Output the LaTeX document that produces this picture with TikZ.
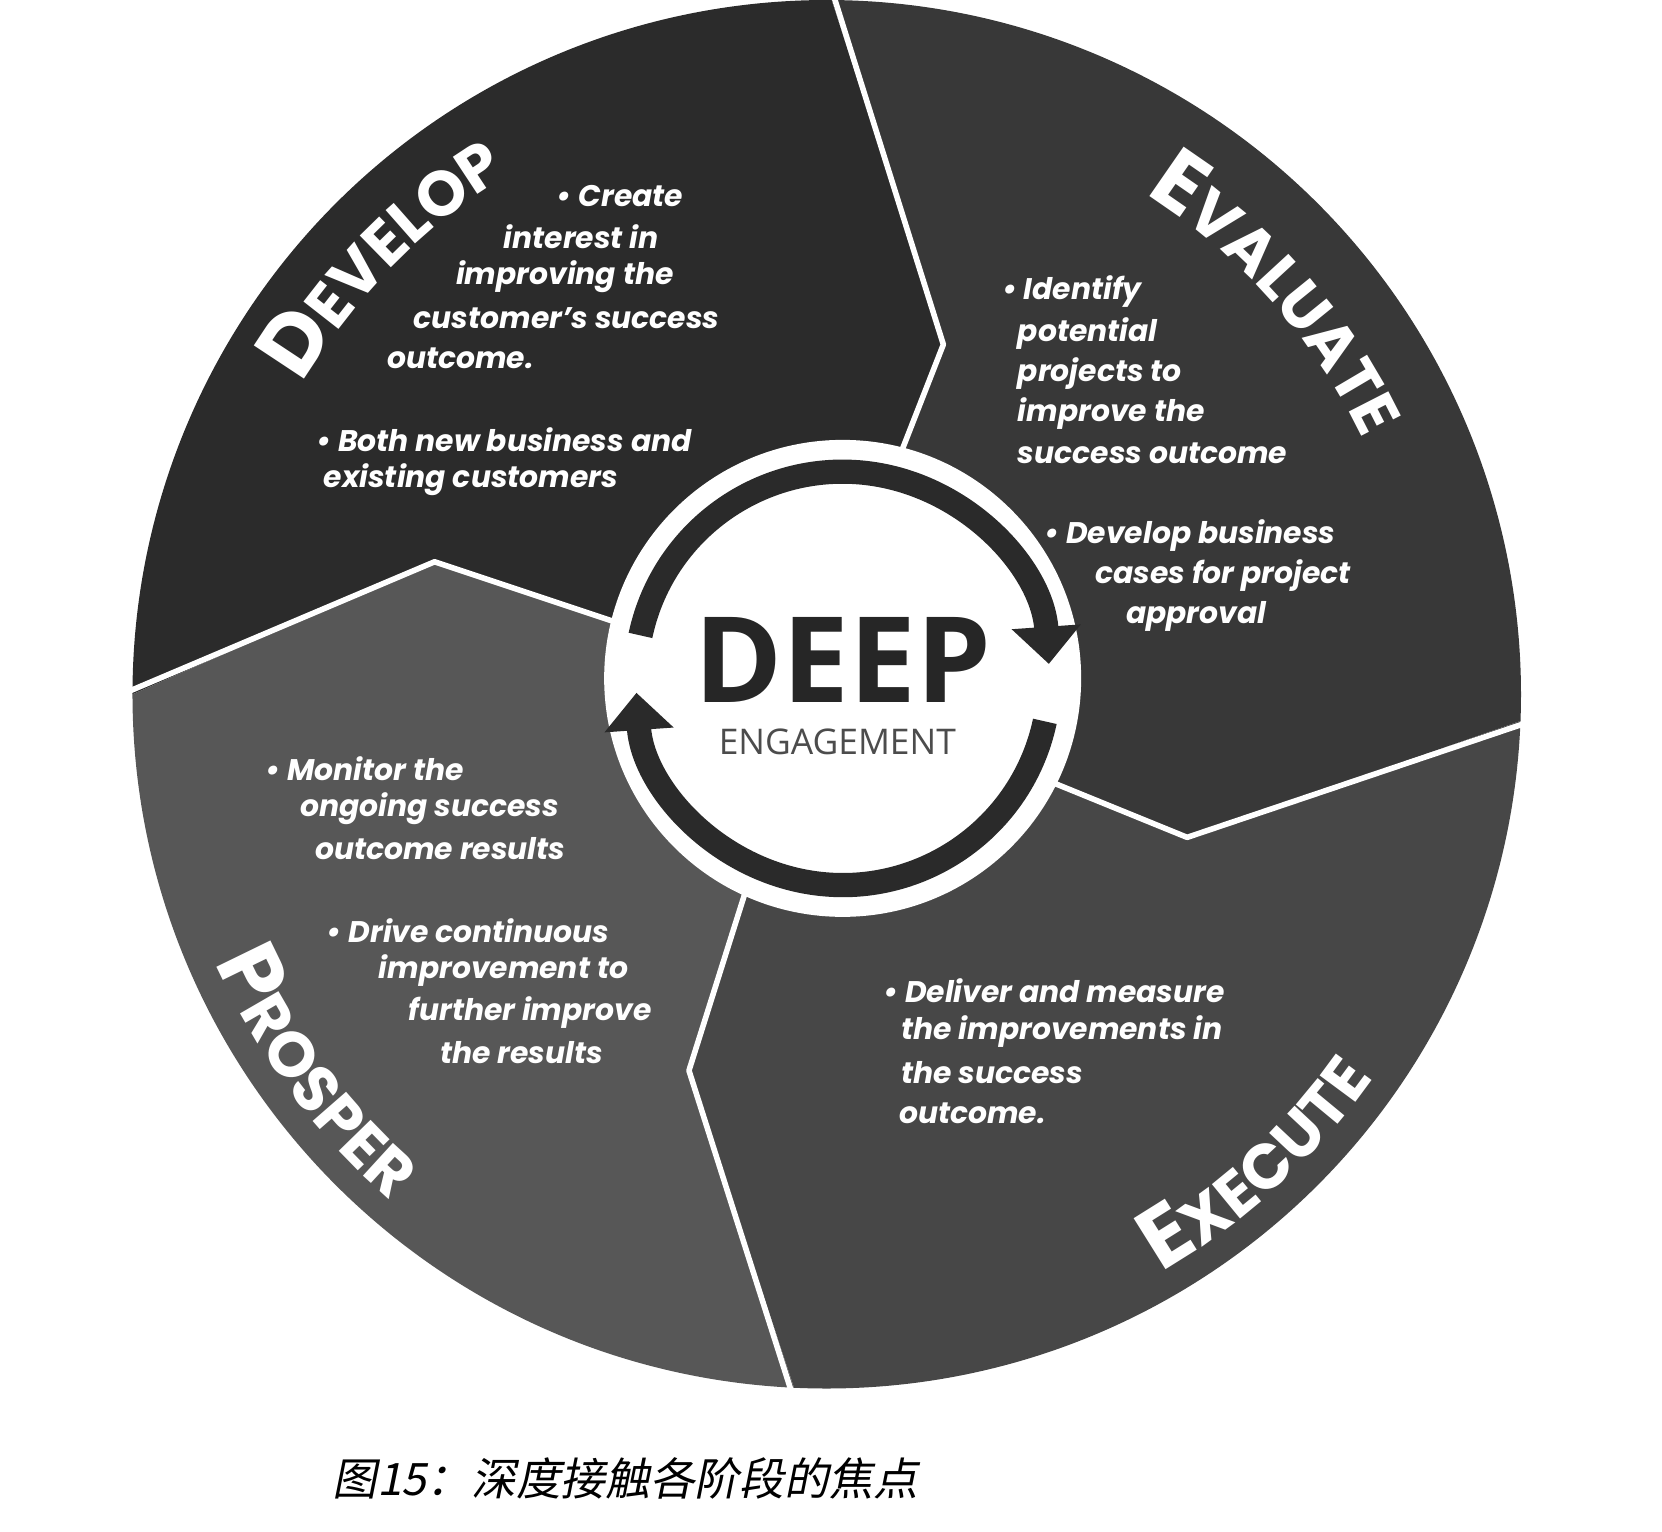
\documentclass[tikz,border=0pt]{standalone}
\usepackage{fontspec}
\setmainfont{Poppins}
\newfontfamily\cjk[FakeSlant=0.2]{Noto Sans CJK SC}
\newfontfamily\deepfont{Open Sans}
\usetikzlibrary{arrows.meta,decorations.text}
\definecolor{cdev}{HTML}{2B2B2B}
\definecolor{ceva}{HTML}{383838}
\definecolor{cexe}{HTML}{474747}
\definecolor{cpro}{HTML}{575757}
\definecolor{cring}{HTML}{2A2A2A}
\newcommand{\tbig}{\fontsize{46}{46}\selectfont\bfseries}
\newcommand{\tsml}{\fontsize{34}{34}\selectfont\bfseries}
\tikzset{
  body/.style={anchor=west,text=white,font=\fontsize{16}{20}\selectfont\bfseries\itshape,inner sep=0pt},
  gap/.style={draw=white,line width=3pt,line join=round},
  ringarrow/.style={draw=cring,line width=13pt,-{Triangle[width=36pt,length=20pt]}},
  titlepath/.style={decorate,decoration={text along path,text align=center,text color=white}}
}
\newcommand{\bl}[4]{\node[body] (#1) at ({#2-780},{655-#3}) {#4};}
\begin{document}
\begin{tikzpicture}[x=0.02cm,y=0.02cm]
\useasboundingbox (-780,-790) rectangle (788,655);
\def\R{655}
% segments
\fill[cdev] (0,0) -- (-190,65) -- (-370,125) -- (180:\R) arc[start angle=180,end angle=89.6,radius=\R] -- (110,330) -- (65,215) -- cycle;
\fill[ceva] (0,0) -- (65,215) -- (110,330) -- (89.6:\R) arc[start angle=89.6,end angle=-2.2,radius=\R] -- (340,-135) -- (205,-80) -- cycle;
\fill[cexe] (0,0) -- (205,-80) -- (340,-135) -- (-2.2:\R) arc[start angle=-2.2,end angle=-92.7,radius=\R] -- (-130,-355) -- (-70,-165) -- cycle;
\fill[cpro] (0,0) -- (-70,-165) -- (-130,-355) -- (-92.7:\R) arc[start angle=-92.7,end angle=-180,radius=\R] -- (-370,125) -- (-190,65) -- cycle;
% gaps
\draw[gap] (89.6:\R+10) -- (110,330) -- (65,215) -- (0,0);
\draw[gap] (0,0) -- (205,-80) -- (340,-135) -- (-2.2:\R+10);
\draw[gap] (0,0) -- (-70,-165) -- (-130,-355) -- (-92.7:\R+10);
\draw[gap] (180:\R+10) -- (-370,125) -- (-190,65) -- (0,0);
% center
\fill[white] (15,15) circle[radius=225];
\draw[ringarrow] (15,15) ++(168:195) arc[start angle=168,end angle=4,radius=195];
\draw[ringarrow] (15,15) ++(-12:195) arc[start angle=-12,end angle=-176,radius=195];
\node[font=\deepfont\fontsize{64}{64}\selectfont\bfseries,text=black!85] (deep) at (15,32) {DEEP};
\node[font=\deepfont\fontsize{19}{19}\selectfont,text=black!70] (eng) at (10,-45) {ENGAGEMENT};
% titles
\path[titlepath,decoration={text={|\tbig|D|\tsml|EVELOP}}] (160:575) arc[start angle=160,end angle=111,radius=575];
\path[titlepath,decoration={text={|\tbig|E|\tsml|VALUATE}}] (68:560) arc[start angle=68,end angle=15,radius=560];
\path[titlepath,decoration={text={|\tbig|E|\tsml|XECUTE}}] (-74:630) arc[start angle=-74,end angle=-21,radius=630];
\path[titlepath,decoration={text={|\tbig|P|\tsml|ROSPER}}] (-170:630) arc[start angle=-170,end angle=-117,radius=630];
% body text
\bl{a1}{525}{185}{• Create}
\bl{a2}{475}{223}{interest in}
\bl{a3}{430}{261}{improving the}
\bl{a4}{390}{300}{customer's success}
\bl{a5}{365}{338}{outcome.}
\bl{a6}{298}{415}{• Both new business and}
\bl{a7}{305}{453}{existing customers}
\bl{b1}{945}{275}{• Identify}
\bl{b2}{960}{315}{potential}
\bl{b3}{960}{352}{projects to}
\bl{b4}{960}{390}{improve the}
\bl{b5}{960}{428}{success outcome}
\bl{b6}{985}{505}{• Develop business}
\bl{b7}{1033}{543}{cases for project}
\bl{b8}{1062}{582}{approval}
\bl{c1}{250}{725}{• Monitor the}
\bl{c2}{283}{763}{ongoing success}
\bl{c3}{297}{801}{outcome results}
\bl{c4}{308}{878}{• Drive continuous}
\bl{c5}{357}{916}{improvement to}
\bl{c6}{385}{955}{further improve}
\bl{c7}{415}{993}{the results}
\bl{d1}{833}{935}{• Deliver and measure}
\bl{d2}{850}{973}{the improvements in}
\bl{d3}{850}{1012}{the success}
\bl{d4}{848}{1050}{outcome.}
% caption
\node[font=\cjk\fontsize{24}{28}\selectfont] (cap) at (-190,-740) {图15：深度接触各阶段的焦点};
\end{tikzpicture}
\end{document}
